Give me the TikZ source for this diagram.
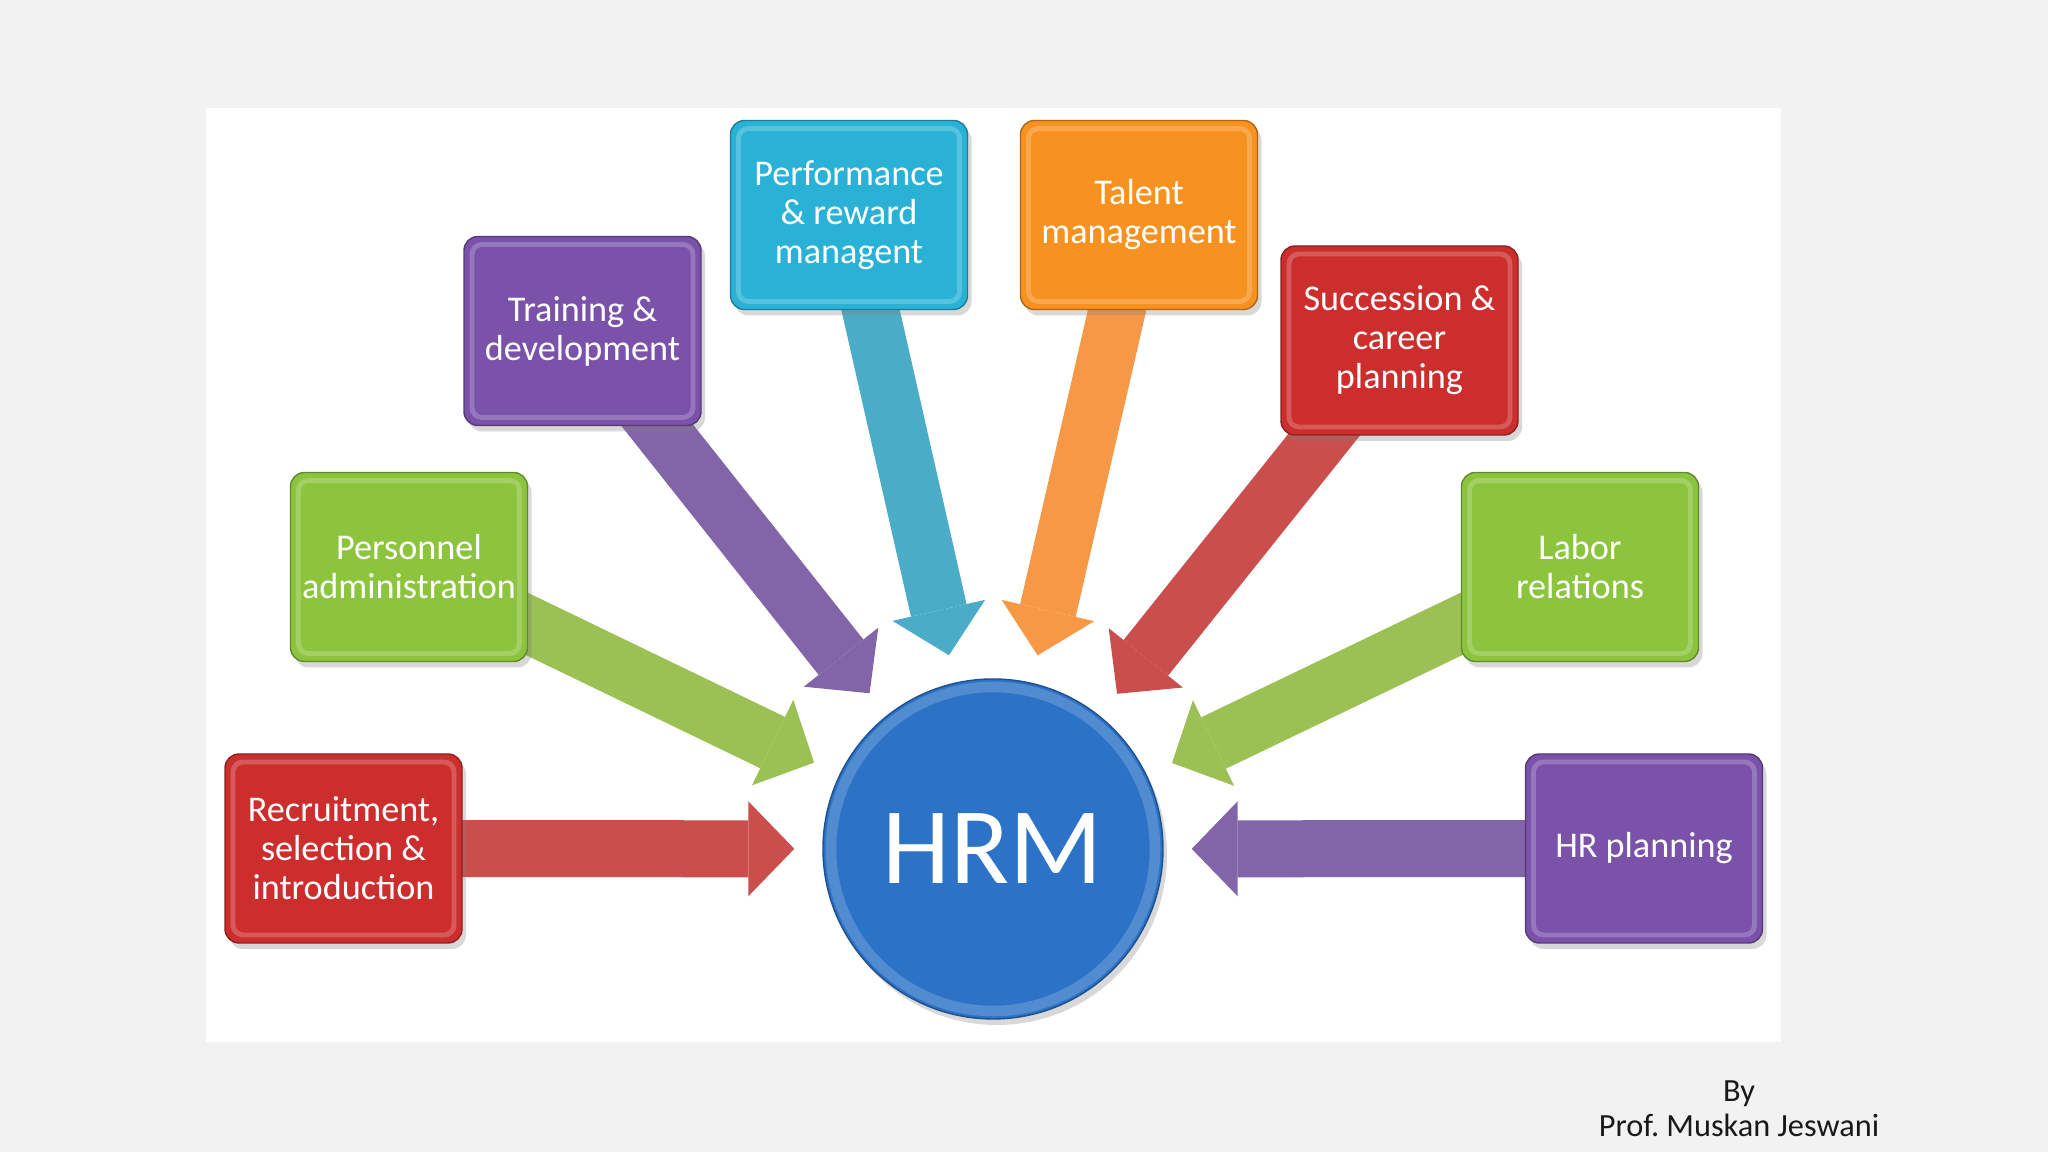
\documentclass[tikz,border=0pt]{standalone}
\usepackage{fontspec}
\setmainfont{Carlito}
\usetikzlibrary{arrows.meta,shadows}

\definecolor{bgcol}{RGB}{242,242,242}
\definecolor{redbox}{RGB}{204,46,46}
\definecolor{greenbox}{RGB}{140,196,62}
\definecolor{purplebox}{RGB}{122,82,170}
\definecolor{bluebox}{RGB}{42,178,214}
\definecolor{orangebox}{RGB}{247,146,32}
\definecolor{redarrow}{RGB}{202,78,76}
\definecolor{greenarrow}{RGB}{155,192,84}
\definecolor{purplearrow}{RGB}{130,100,168}
\definecolor{bluearrow}{RGB}{75,172,200}
\definecolor{orangearrow}{RGB}{247,152,70}
\definecolor{hrmblue}{RGB}{44,115,200}

\pgfdeclarelayer{back}
\pgfdeclarelayer{flows}
\pgfsetlayers{back,flows,main}

\begin{document}
\begin{tikzpicture}[
hrbox/.style={rectangle,rounded corners=0.14cm,minimum width=2.37cm,minimum height=1.89cm,inner sep=0pt,align=center,text=white,font=\fontsize{10.3}{11.1}\selectfont,fill=#1,draw=#1!70!black,drop shadow={shadow xshift=0.04cm,shadow yshift=-0.06cm,opacity=0.3},path picture={\draw[#1!70!white,line width=1.4pt,opacity=0.7,rounded corners=0.1cm]([shift={(0.08,0.08)}]path picture bounding box.south west)rectangle([shift={(-0.08,-0.08)}]path picture bounding box.north east);}},
flow/.style={draw=#1,line width=0.57cm,-{Triangle[width=0.95cm,length=0.46cm,line width=0pt]},shorten >=0.28cm}]
\begin{pgfonlayer}{back}
\fill[bgcol](0,0)rectangle(20.48,11.52);
\fill[white](2.06,1.10)rectangle(17.81,10.44);
\end{pgfonlayer}
\node[circle,minimum size=3.4cm,inner sep=0pt,fill=hrmblue,draw=hrmblue!70!black,text=white,font=\fontsize{31}{31}\selectfont,drop shadow={shadow xshift=0.04cm,shadow yshift=-0.06cm,opacity=0.3},path picture={\draw[hrmblue!70!white,line width=3pt,opacity=0.6](path picture bounding box.center)circle(1.62cm);}](h)at(9.93,3.03){HRM};
\node[hrbox=redbox](b1)at(3.435,3.035){Recruitment,\\selection \&\\introduction};
\node[hrbox=greenbox](b2)at(4.09,5.85){Personnel\\administration};
\node[hrbox=purplebox](b3)at(5.825,8.21){Training \&\\development};
\node[hrbox=bluebox](b4)at(8.49,9.37){Performance\\\& reward\\managent};
\node[hrbox=orangebox](b5)at(11.39,9.37){Talent\\management};
\node[hrbox=redbox](b6)at(13.995,8.115){Succession \&\\career\\planning};
\node[hrbox=greenbox](b7)at(15.80,5.85){Labor\\relations};
\node[hrbox=purplebox](b8)at(16.44,3.035){HR planning};
% arrows run under the boxes
\begin{pgfonlayer}{flows}
\draw[flow=redarrow](b1.center)--(h);
\draw[flow=greenarrow](b2.center)--(h);
\draw[flow=purplearrow](b3.center)--(h);
\draw[flow=bluearrow](b4.center)--(h);
\draw[flow=orangearrow](b5.center)--(h);
\draw[flow=redarrow](b6.center)--(h);
\draw[flow=greenarrow](b7.center)--(h);
\draw[flow=purplearrow](b8.center)--(h);
\end{pgfonlayer}
\node[align=center,text=black!90,font=\fontsize{9.2}{10}\selectfont](by)at(17.39,0.43){By\\Prof.\ Muskan Jeswani};
\end{tikzpicture}
\end{document}
